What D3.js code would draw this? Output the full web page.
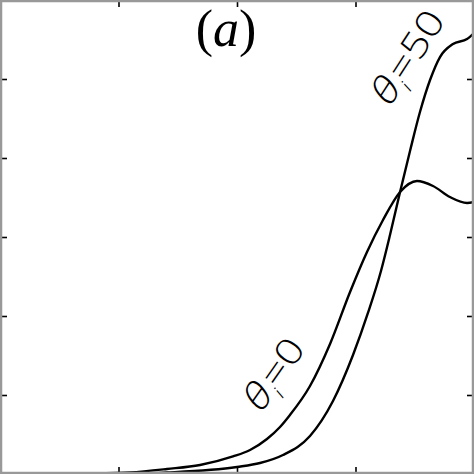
<!DOCTYPE html>
<html>
<head>
<meta charset="utf-8">
<script src="https://cdn.jsdelivr.net/npm/d3@7/dist/d3.min.js"></script>
<style>
  html, body { margin: 0; padding: 0; background: #fff; }
  svg { display: block; }
</style>
</head>
<body>
<div id="chart"></div>
<script>
// ---------- Data ----------
const theta0X = [0.802, 1.097, 1.409, 1.688, 1.966, 2.110, 2.253, 2.363, 2.447, 2.616, 2.785, 2.954, 3.097, 3.232, 3.376, 3.519, 3.654, 3.797, 3.941, 4.000];
const theta0Y = [0.006, 0.019, 0.063, 0.114, 0.222, 0.304, 0.443, 0.595, 0.747, 1.114, 1.646, 2.304, 2.810, 3.215, 3.570, 3.709, 3.646, 3.506, 3.430, 3.443];

const theta50X = [1.013, 1.409, 2.000, 2.194, 2.388, 2.616, 2.810, 2.979, 3.105, 3.215, 3.291, 3.376, 3.460, 3.544, 3.629, 3.713, 3.823, 3.941, 4.000];
const theta50Y = [0.000, 0.019, 0.089, 0.139, 0.241, 0.481, 0.924, 1.506, 2.038, 2.570, 3.025, 3.570, 4.089, 4.582, 4.987, 5.278, 5.443, 5.506, 5.582];

const xTicks = [1, 2, 3];
const yTicks = [1, 2, 3, 4, 5];

// label anchors in data units
const labels = [
  { num: '0',  x: 2.31, y: 1.27, angle: -55 },
  { num: '50', x: 3.44, y: 5.28, angle: -57 }
];

// ---------- Layout ----------
const W = 474, H = 474;
const x = d3.scaleLinear().domain([0, 4]).range([0, W]);
const y = d3.scaleLinear().domain([0, 6]).range([H, 0]);

const svg = d3.select('#chart').append('svg')
  .attr('width', W).attr('height', H)
  .attr('viewBox', [0, 0, W, H]);

svg.append('defs').append('clipPath').attr('id', 'clip')
  .append('rect').attr('x', 0).attr('y', 0).attr('width', W).attr('height', H);

// ticks (inward, no labels)
const tick = 7;
const axes = [
  { g: d3.axisLeft(y).tickValues(yTicks).tickSize(-tick), t: 'translate(0,0)' },
  { g: d3.axisRight(y).tickValues(yTicks).tickSize(-tick), t: `translate(${W},0)` },
  { g: d3.axisTop(x).tickValues(xTicks).tickSize(-tick), t: 'translate(0,0)' },
  { g: d3.axisBottom(x).tickValues(xTicks).tickSize(-tick), t: `translate(0,${H})` }
];
axes.forEach(a => {
  const g = svg.append('g').attr('transform', a.t).call(a.g.tickFormat(''));
  g.select('.domain').remove();
  g.selectAll('line').attr('stroke', '#000').attr('stroke-width', 1.6);
});

// curves
const line = d3.line()
  .x(d => x(d[0])).y(d => y(d[1]))
  .curve(d3.curveMonotoneX);

const series = [
  d3.zip(theta0X, theta0Y),
  d3.zip(theta50X, theta50Y)
];

svg.append('g').attr('clip-path', 'url(#clip)')
  .selectAll('path').data(series).join('path')
  .attr('d', line)
  .attr('fill', 'none')
  .attr('stroke', '#000')
  .attr('stroke-width', 2.4);

// frame
svg.append('rect')
  .attr('x', 1).attr('y', 1).attr('width', W - 2).attr('height', H - 2)
  .attr('fill', 'none').attr('stroke', '#999').attr('stroke-width', 2.5);

// panel label
const pl = svg.append('text')
  .attr('x', 226).attr('y', 46)
  .attr('text-anchor', 'middle')
  .attr('font-family', '"Liberation Serif", serif')
  .attr('font-size', 52)
  .attr('fill', '#000');
pl.append('tspan').text('(');
pl.append('tspan').attr('font-style', 'italic').text('a');
pl.append('tspan').text(')');

// curve labels
const fs = 36;
labels.forEach(l => {
  const t = svg.append('text')
    .attr('transform', `translate(${x(l.x)},${y(l.y)}) rotate(${l.angle}) scale(1.22,1)`)
    .attr('y', fs * 0.35)
    .attr('text-anchor', 'middle')
    .attr('font-family', '"Open Sans", "Liberation Sans", sans-serif')
    .attr('font-weight', 300)
    .attr('font-size', fs)
    .attr('fill', '#000');
  t.append('tspan').attr('font-style', 'italic').text('θ');
  t.append('tspan').attr('font-style', 'italic')
    .attr('font-size', fs * 0.5).attr('dy', fs * 0.25).text('i');
  t.append('tspan').attr('dy', -fs * 0.25).text('=' + l.num);
});
</script>
</body>
</html>
